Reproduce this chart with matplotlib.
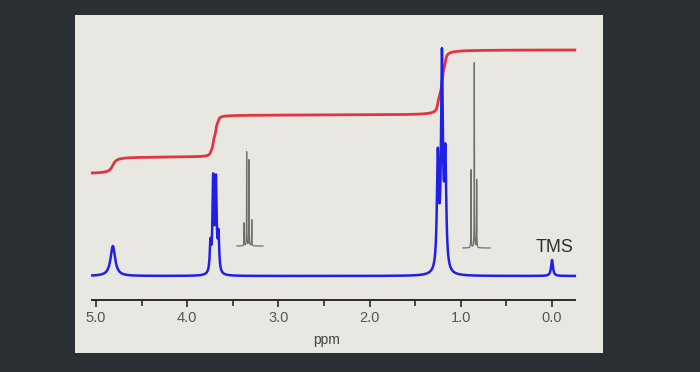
import numpy as np
import matplotlib.pyplot as plt

plt.rcParams['font.family'] = ['Liberation Sans', 'DejaVu Sans']

# peaks: centre (ppm) and height (screen px above baseline)
oh_ppm = [4.815]
oh_height = [30]
ch2_ppm = [3.745, 3.715, 3.685, 3.657]
ch2_height = [28, 92, 90, 36]
ch3_ppm = [1.252, 1.207, 1.170]
ch3_height = [112, 210, 110]
tms_ppm = [0.0]
tms_height = [16]

# integral trace: start level and rise over each group (OH, CH2, CH3)
int_start = 103
int_steps = [16, 42, 65]

# expanded multiplets drawn in grey
quart_ppm = [3.377, 3.348, 3.322, 3.292]
quart_height = [23, 94, 86, 26]
quart_base = 30
quart_span = (3.454, 3.169)
trip_ppm = [0.888, 0.852, 0.826]
trip_height = [78, 185, 68]
trip_base = 28
trip_span = (0.976, 0.680)

tick_pos = [5.0, 4.0, 3.0, 2.0, 1.0, 0.0]
tick_lab = ['5.0', '4.0', '3.0', '2.0', '1.0', '0.0']
minor_pos = [4.5, 3.5, 2.5, 1.5, 0.5]


def lorentz(x, centres, heights, w):
    y = np.zeros_like(x)
    for c, h in zip(centres, heights):
        y += h * w**2 / ((x - c)**2 + w**2)
    return y


x = np.linspace(5.04, -0.25, 8000)
groups = [(oh_ppm, oh_height, 0.03),
          (ch2_ppm, ch2_height, 0.009),
          (ch3_ppm, ch3_height, 0.012),
          (tms_ppm, tms_height, 0.012)]
shapes = [lorentz(x, c, h, w) for c, h, w in groups]
spec = np.sum(shapes, axis=0)

integral = np.full_like(x, int_start, dtype=float)
for shp, step in zip(shapes[:3], int_steps):
    integral += step * np.cumsum(shp) / shp.sum()

fig = plt.figure(figsize=(7, 3.72), dpi=100, facecolor='#2b2e33')
ax = fig.add_axes([75 / 700, 19 / 372, 528 / 700, 338 / 372])
ax.set_facecolor('#e9e7e2')
ax.set_xlim(5.230, -0.559)
ax.set_ylim(-77, 261)

ax.plot(x, integral, color='#e2343f', lw=2.0)
ax.plot(x, spec, color='#1f1fe8', lw=1.8)

for pos, hts, base, span in [(quart_ppm, quart_height, quart_base, quart_span),
                             (trip_ppm, trip_height, trip_base, trip_span)]:
    xi = np.linspace(span[0], span[1], 3000)
    ax.plot(xi, base + lorentz(xi, pos, hts, 0.0015), color='#6f6f6f', lw=0.9)

ax.text(-0.03, 28, 'TMS', ha='center', va='center', fontsize=13, color='#2e2e2e')
ax.text(2.47, -64, 'ppm', ha='center', va='center', fontsize=10, color='#444444')

for s in ['top', 'left', 'right']:
    ax.spines[s].set_visible(False)
ax.spines['bottom'].set_position(('data', -24))
ax.spines['bottom'].set_bounds(-0.25, 5.04)
ax.spines['bottom'].set_color('#2a2a2a')
ax.spines['bottom'].set_linewidth(1.4)
ax.set_yticks([])
ax.set_xticks(tick_pos)
ax.set_xticklabels(tick_lab)
ax.set_xticks(minor_pos, minor=True)
ax.tick_params(axis='x', which='major', direction='out', length=5, width=1.2,
               colors='#2a2a2a', labelcolor='#555555', labelsize=10.5, pad=3)
ax.tick_params(axis='x', which='minor', direction='out', length=4, width=1.2,
               colors='#2a2a2a')

fig.savefig('out.png', dpi=100, facecolor=fig.get_facecolor())
